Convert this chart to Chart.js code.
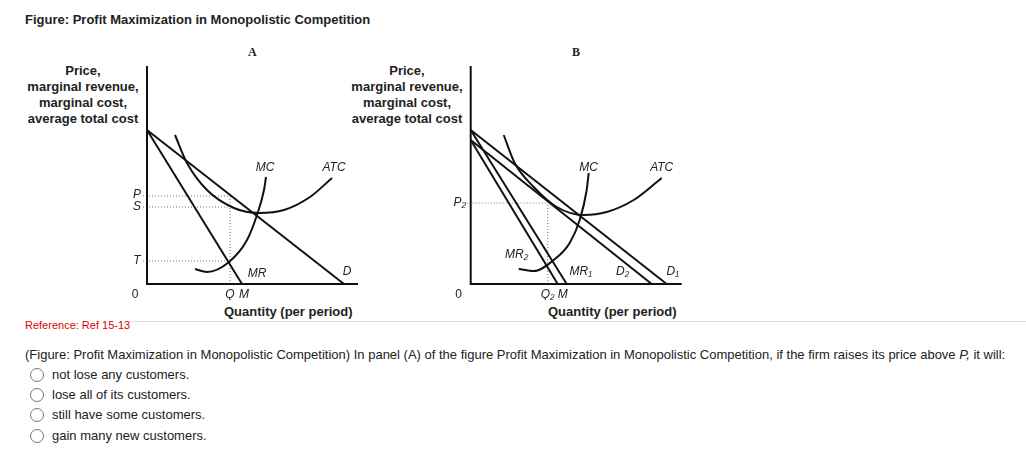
<!DOCTYPE html>
<html>
<head>
<meta charset="utf-8">
<script src="https://cdn.jsdelivr.net/npm/chart.js@4.4.1/dist/chart.umd.min.js"></script>
<style>
  body { margin: 0; width: 1026px; height: 465px; background: #fff; font-family: "Liberation Sans", Arial, sans-serif; color: #222; position: relative; overflow: hidden; }
  .abs { position: absolute; }
  .title { left: 25px; top: 12px; font-size: 13px; font-weight: bold; }
  .panel { font-family: "Liberation Serif", serif; font-weight: bold; font-size: 12px; }
  .ytitle { font-weight: bold; font-size: 13px; text-align: center; line-height: 16px; }
  .xtitle { font-weight: bold; font-size: 13px; }
  .ref { left: 25px; top: 319px; font-size: 11px; color: #d00; }
  .rule { left: 130px; top: 321px; width: 896px; height: 1px; background: #ddd; }
  .q { left: 25px; top: 347px; font-size: 13px; }
  .opt { left: 30px; font-size: 13px; }
  .opt span { display: inline-block; width: 12px; height: 12px; border: 1px solid #777; border-radius: 50%; vertical-align: -3px; margin-right: 8px; }
  canvas { position: absolute; }
</style>
</head>
<body>
<div class="abs title">Figure: Profit Maximization in Monopolistic Competition</div>
<div class="abs panel" style="left:248px;top:45px">A</div>
<div class="abs panel" style="left:572px;top:45px">B</div>
<div class="abs ytitle" style="left:18px;top:63px;width:130px">Price,<br>marginal revenue,<br>marginal cost,<br>average total cost</div>
<div class="abs ytitle" style="left:342px;top:63px;width:130px">Price,<br>marginal revenue,<br>marginal cost,<br>average total cost</div>
<div class="abs xtitle" style="left:224px;top:304px">Quantity (per period)</div>
<div class="abs xtitle" style="left:548px;top:304px">Quantity (per period)</div>
<div class="abs rule"></div>
<div class="abs ref">Reference: Ref 15-13</div>
<div class="abs q">(Figure: Profit Maximization in Monopolistic Competition) In panel (A) of the figure Profit Maximization in Monopolistic Competition, if the firm raises its price above <i>P,</i> it will:</div>
<div class="abs opt" style="top:367px"><span></span>not lose any customers.</div>
<div class="abs opt" style="top:387px"><span></span>lose all of its customers.</div>
<div class="abs opt" style="top:407px"><span></span>still have some customers.</div>
<div class="abs opt" style="top:428px"><span></span>gain many new customers.</div>

<canvas id="chartA" style="left:117px;top:60px;width:250px;height:240px"></canvas>
<canvas id="chartB" style="left:440px;top:60px;width:250px;height:240px"></canvas>

<script>
// panel A
const A_D = [{ x: 0, y: 154 }, { x: 197, y: 0 }];
const A_MR = [{ x: 0, y: 154 }, { x: 95, y: 0 }];
const A_MC = [{ x: 48, y: 15 }, { x: 60, y: 12 }, { x: 82, y: 22 }, { x: 100, y: 44 }, { x: 110, y: 69 }, { x: 117, y: 94 }, { x: 119, y: 107 }];
const A_ATC = [{ x: 28, y: 149 }, { x: 40, y: 121 }, { x: 60, y: 94 }, { x: 87, y: 76 }, { x: 112, y: 71 }, { x: 137, y: 74 }, { x: 163, y: 87 }, { x: 185, y: 106 }];
const A_LEVELS = { P: 88, S: 77, T: 23 };
const A_Q = 83;
const A_LABELS = [
  { t: "MC", x: 118, y: 116, i: true }, { t: "ATC", x: 187, y: 116, i: true },
  { t: "MR", x: 110, y: 10, i: true }, { t: "D", x: 200, y: 12, i: true },
  { t: "P", x: -10, y: 89, i: true }, { t: "S", x: -10, y: 77, i: true }, { t: "T", x: -10, y: 23, i: true },
  { t: "0", x: -12, y: -11 }, { t: "Q", x: 83, y: -11, i: true }, { t: "M", x: 97, y: -11, i: true },
];

// panel B
const B_D1 = [{ x: 0, y: 154 }, { x: 196, y: 0 }];
const B_D2 = [{ x: 0, y: 144 }, { x: 181, y: 0 }];
const B_MR1 = [{ x: 0, y: 154 }, { x: 96, y: 0 }];
const B_MR2 = [{ x: 0, y: 144 }, { x: 87, y: 0 }];
const B_MC = [{ x: 48, y: 15 }, { x: 63, y: 13 }, { x: 83, y: 24 }, { x: 99, y: 41 }, { x: 109, y: 64 }, { x: 116, y: 94 }, { x: 118, y: 111 }];
const B_ATC = [{ x: 33, y: 149 }, { x: 44, y: 121 }, { x: 63, y: 97 }, { x: 86, y: 77 }, { x: 113, y: 69 }, { x: 136, y: 72 }, { x: 163, y: 84 }, { x: 191, y: 106 }];
const B_P2 = 81;
const B_Q2 = 77;
const B_LABELS = [
  { t: "MC", x: 118, y: 116, i: true }, { t: "ATC", x: 191, y: 116, i: true },
  { t: "MR₂", x: 46, y: 29, i: true }, { t: "MR₁", x: 110, y: 12, i: true },
  { t: "D₂", x: 152, y: 12, i: true }, { t: "D₁", x: 202, y: 12, i: true },
  { t: "P₂", x: -11, y: 81, i: true }, { t: "0", x: -12, y: -11 },
  { t: "Q₂", x: 77, y: -11, i: true }, { t: "M", x: 92, y: -11, i: true },
];

const solid = (data, curve) => ({
  data, borderColor: "#111", borderWidth: 2, pointRadius: 0,
  fill: false, tension: 0, showLine: true,
  cubicInterpolationMode: curve ? "monotone" : "default",
});
const dotted = (data) => ({
  data, borderColor: "#777", borderWidth: 1, borderDash: [1, 2],
  pointRadius: 0, fill: false, tension: 0, showLine: true,
});

const textPlugin = {
  id: "textLabels",
  afterDatasetsDraw(chart, args, opts) {
    const { ctx, scales } = chart;
    ctx.save();
    ctx.fillStyle = "#222";
    ctx.textAlign = "center";
    ctx.textBaseline = "middle";
    opts.items.forEach((l) => {
      ctx.font = (l.i ? "italic " : "") + "12px 'Liberation Sans', Arial, sans-serif";
      ctx.fillText(l.t, scales.x.getPixelForValue(l.x), scales.y.getPixelForValue(l.y));
    });
    ctx.restore();
  },
};

function makeChart(id, datasets, labels, xMin) {
  const axes = [
    { x: 0, y: 218 }, { x: 0, y: 0 }, { x: 211, y: 0 },
  ];
  new Chart(document.getElementById(id), {
    type: "scatter",
    data: { datasets: [solid(axes, false), ...datasets] },
    options: {
      responsive: false, animation: false,
      layout: { padding: 0 },
      plugins: { legend: { display: false }, tooltip: { enabled: false }, textLabels: { items: labels } },
      scales: {
        x: { type: "linear", display: false, min: xMin, max: xMin + 250 },
        y: { type: "linear", display: false, min: -16, max: 224 },
      },
    },
    plugins: [textPlugin],
  });
}

const cA = document.getElementById("chartA"); cA.width = 250; cA.height = 240;
const cB = document.getElementById("chartB"); cB.width = 250; cB.height = 240;

makeChart("chartA", [
  solid(A_D), solid(A_MR), solid(A_MC, true), solid(A_ATC, true),
  dotted([{ x: -4, y: A_LEVELS.P }, { x: A_Q, y: A_LEVELS.P }]),
  dotted([{ x: -4, y: A_LEVELS.S }, { x: A_Q, y: A_LEVELS.S }]),
  dotted([{ x: -4, y: A_LEVELS.T }, { x: A_Q, y: A_LEVELS.T }]),
  dotted([{ x: A_Q, y: 0 }, { x: A_Q, y: A_LEVELS.P }]),
], A_LABELS, -30);

makeChart("chartB", [
  solid(B_D1), solid(B_D2), solid(B_MR1), solid(B_MR2), solid(B_MC, true), solid(B_ATC, true),
  dotted([{ x: -4, y: B_P2 }, { x: B_Q2, y: B_P2 }]),
  dotted([{ x: B_Q2, y: 0 }, { x: B_Q2, y: B_P2 }]),
], B_LABELS, -30.7);
</script>
</body>
</html>
